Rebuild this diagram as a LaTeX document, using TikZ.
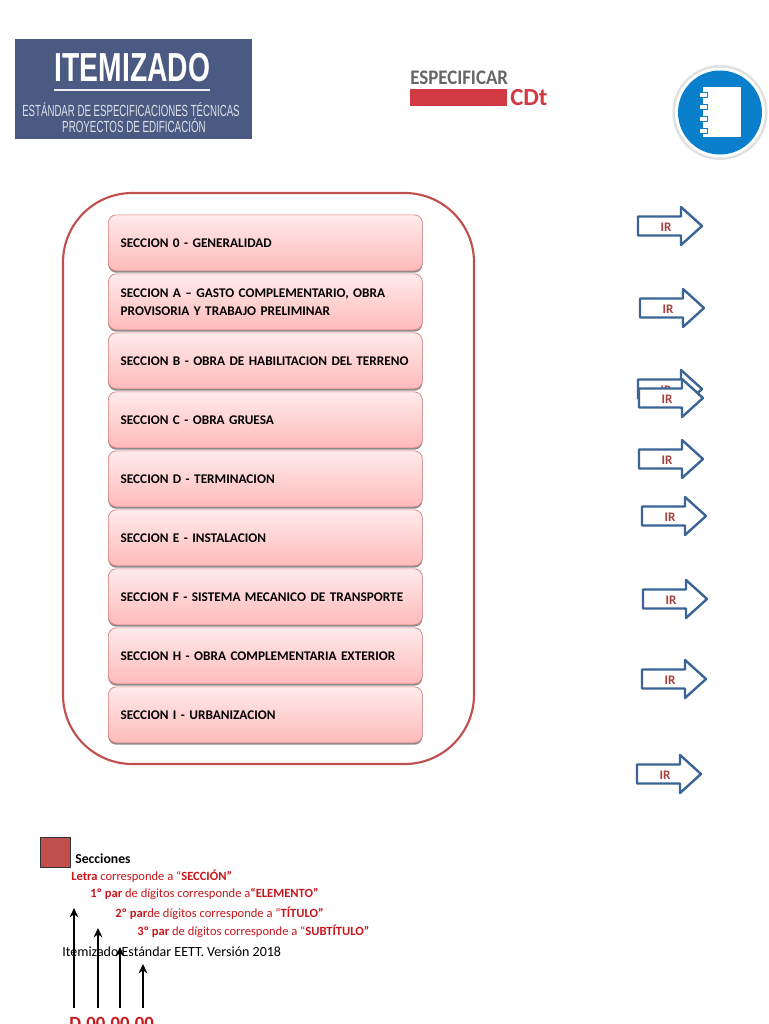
\documentclass[tikz,border=0pt]{standalone}
\usepackage{fontspec}
\setmainfont{Carlito}
\newfontfamily\logofont{Liberation Sans}
\usetikzlibrary{shadows,arrows.meta}
\definecolor{logoblue}{HTML}{4A5A82}
\definecolor{framered}{HTML}{C0504D}
\definecolor{arrowblue}{HTML}{3A6596}
\definecolor{irred}{HTML}{A5403F}
\definecolor{txtred}{HTML}{C8161D}
\definecolor{cdtred}{HTML}{D13A43}
\definecolor{iconblue}{HTML}{0A80CC}
\tikzset{
  x=0.75pt,y=-0.75pt,
  secbox/.style={rounded corners=6pt,draw=framered!75!white,line width=0.5pt,top color=red!8!white,bottom color=red!27!white,minimum width=235.5pt,minimum height=42pt,anchor=north west,
    general shadow={fill=black!45,shadow yshift=-1.4pt},align=left,text width=217pt,inner xsep=9pt,inner ysep=0pt,font=\fontsize{9.95}{13.5}\selectfont\bfseries},
  irlabel/.style={inner sep=0pt,text=irred,font=\fontsize{9.8}{11}\selectfont\bfseries},
  irshape/.style={draw=arrowblue,line width=1.8pt,fill=white,line join=round},
  redline/.style={anchor=west,inner sep=0pt,text=txtred,font=\fontsize{9.4}{10}\selectfont},
  blackline/.style={anchor=west,inner sep=0pt,text=black,font=\fontsize{10.5}{12}\selectfont},
  uparrow/.style={-{Stealth[length=7pt,width=6.5pt]},line width=1.2pt,black},
}
\newcommand{\irarrow}[4]{% name, left, tip, cy
  \draw[irshape] (#2,#4-9.5) -- (#3-21,#4-9.5) -- (#3-21,#4-19) -- (#3,#4) -- (#3-21,#4+19) -- (#3-21,#4+9.5) -- (#2,#4+9.5) -- cycle;
  \node[irlabel] (#1) at (#2+28,#4+1) {IR};
}
\begin{document}
\begin{tikzpicture}
\clip (0,0) rectangle (768,1024);
\useasboundingbox (0,0) rectangle (768,1024);
\fill[white] (0,0) rectangle (768,1024);
% ITEMIZADO logo
\fill[logoblue] (15,39) rectangle (252,139);
\node[inner sep=0pt,text=white] (logotitle) at (132.5,67.5) {\logofont\bfseries\fontsize{24.5}{26}\selectfont\scalebox{0.865}[1.24]{ITEMIZADO}};
\fill[white!90!logoblue] (54,89.5) rectangle (210,91.5);
\node[inner sep=0pt,text=white!82!logoblue] (logosub1) at (131,110) {\logofont\fontsize{10.5}{12}\selectfont\scalebox{0.69}[1.15]{ESTÁNDAR DE ESPECIFICACIONES TÉCNICAS}};
\node[inner sep=0pt,text=white!82!logoblue] (logosub2) at (134,125.5) {\logofont\fontsize{10.5}{12}\selectfont\scalebox{0.70}[1.15]{PROYECTOS DE  EDIFICACIÓN}};
% ESPECIFICAR logo
\node[inner sep=0pt,anchor=west,text=black!60] (espec) at (410,78) {\fontsize{13.5}{15}\selectfont\bfseries\scalebox{1.05}[1.15]{ESPECIFICAR}};
\fill[cdtred] (410,89) rectangle (507,106);
\node[inner sep=0pt,anchor=west,text=cdtred] (cdt) at (510,98) {\fontsize{16}{17}\selectfont\bfseries\scalebox{1.16}[1.15]{CDt}};
% notebook icon
\fill[black!12] (720,112.5) circle (47.5);
\fill[white] (720,112.5) circle (45);
\fill[iconblue] (720,112.5) circle (42);
\fill[white] (703,87) rectangle (741,137);
\foreach \yy in {95,107,119,131}{
  \fill[white,draw=iconblue,line width=0.6pt] (699.5,\yy-2.5) rectangle (707,\yy+2.5);
}
% frame
\draw[framered,line width=1.6pt,rounded corners=52pt] (63,193) rectangle (474,764);
% section boxes
\node[secbox] (s0) at (108,214.5) {SECCION 0 - GENERALIDAD};
\node[secbox] (sa) at (108,273.5) {SECCION A – GASTO COMPLEMENTARIO, OBRA\\PROVISORIA Y TRABAJO PRELIMINAR};
\node[secbox] (sb) at (108,332.5) {SECCION B - OBRA DE HABILITACION DEL TERRENO};
\node[secbox] (sc) at (108,391.5) {SECCION C - OBRA GRUESA};
\node[secbox] (sd) at (108,450.5) {SECCION D - TERMINACION};
\node[secbox] (se) at (108,509.5) {SECCION E - INSTALACION};
\node[secbox] (sf) at (108,568.5) {SECCION F - SISTEMA MECANICO DE TRANSPORTE};
\node[secbox] (sh) at (108,627.5) {SECCION H - OBRA COMPLEMENTARIA EXTERIOR};
\node[secbox] (si) at (108,686.5) {SECCION I - URBANIZACION};
% IR arrows
\irarrow{ir0}{638}{702}{226}
\irarrow{ira}{640}{704}{308}
\irarrow{irb}{638}{702}{389}
\irarrow{irc}{639}{703}{398}
\irarrow{ird}{639}{703}{459}
\irarrow{ire}{642}{706}{516}
\irarrow{irf}{643}{707}{599}
\irarrow{irh}{642}{706}{679}
\irarrow{iri}{637}{701}{774}
% legend
\node[draw=black!80,fill=framered,line width=0.8pt,minimum size=23pt,inner sep=0pt] (legend) at (55.5,852.5) {};
\node[blackline,font=\fontsize{10.3}{12}\selectfont\bfseries] (secc) at (75,859) {Secciones};
\node[redline] (l1) at (71,876) {\textbf{Letra} corresponde a “\textbf{SECCIÓN”}};
\node[redline] (l2) at (90,893.5) {\textbf{1º par} de dígitos corresponde a\textbf{“ELEMENTO”}};
\node[redline] (l3) at (115,913) {\textbf{2º par}de dígitos corresponde a “\textbf{TÍTULO”}};
\node[redline] (l4) at (137,931) {\textbf{3º par} de dígitos corresponde a “\textbf{SUBTÍTULO”}};
\node[blackline] (ver) at (62,952) {Itemizado Estándar EETT. Versión 2018};
\node[inner sep=0pt,anchor=west,text=txtred,font=\fontsize{14}{15}\selectfont\bfseries] (code) at (69,1023) {D\hspace{4pt}00\hspace{4pt}00\hspace{4pt}00};
\coordinate (a1s) at (74,1008); \coordinate (a1e) at (74,908);
\coordinate (a2s) at (98,1008); \coordinate (a2e) at (98,928);
\coordinate (a3s) at (120,1008); \coordinate (a3e) at (120,947);
\coordinate (a4s) at (143,1008); \coordinate (a4e) at (143,964);
\draw[uparrow] (a1s) -- (a1e);
\draw[uparrow] (a2s) -- (a2e);
\draw[uparrow] (a3s) -- (a3e);
\draw[uparrow,line width=1.8pt] (a4s) -- (a4e);
\end{tikzpicture}
\end{document}
